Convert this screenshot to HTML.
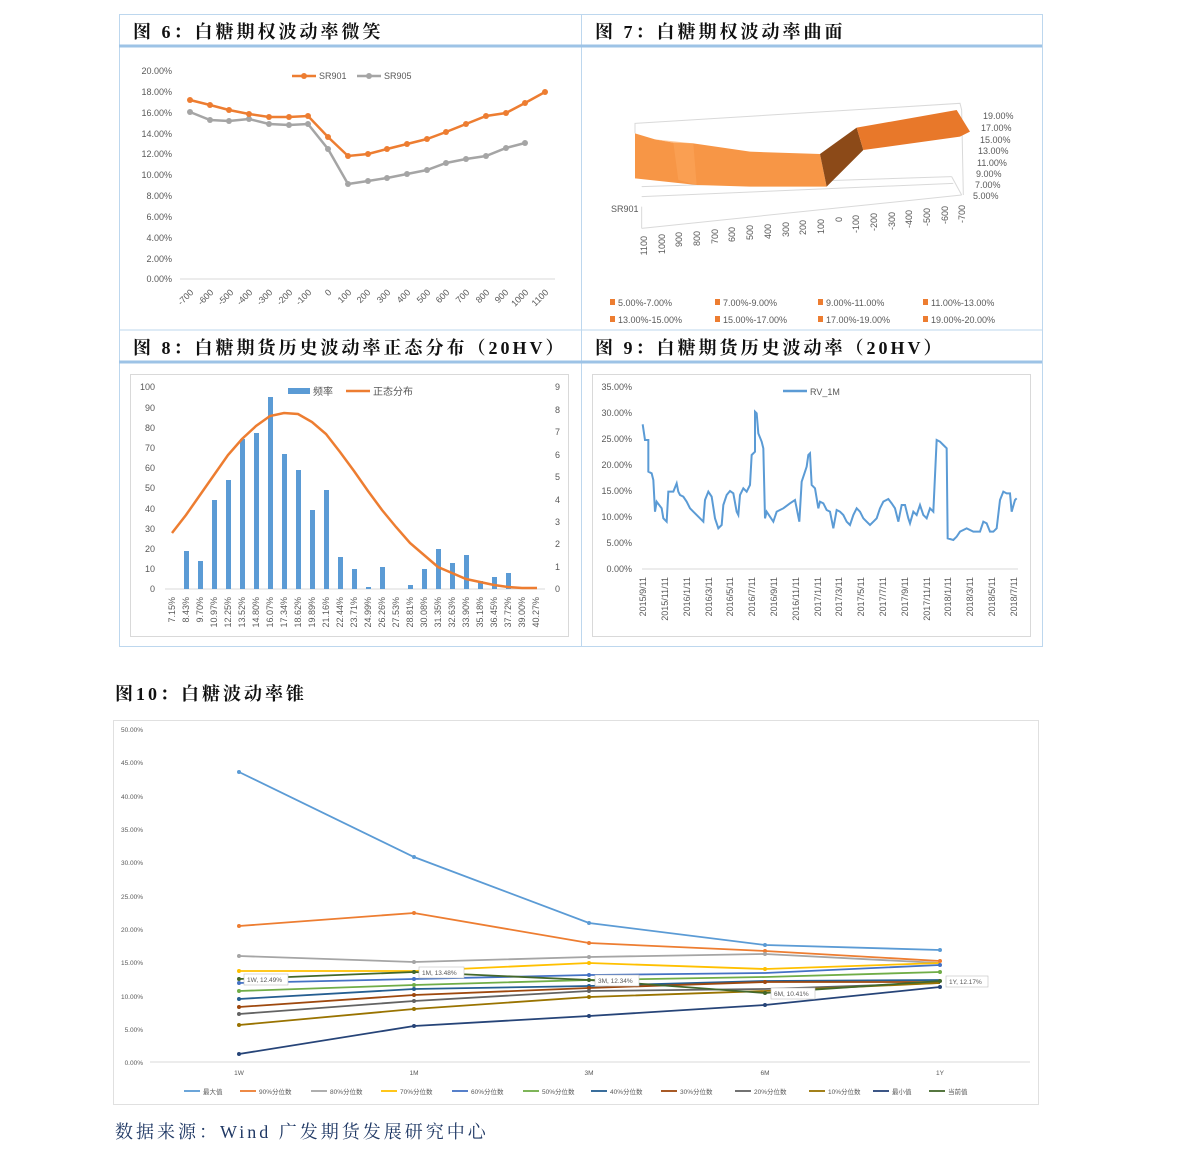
<!DOCTYPE html>
<html><head><meta charset="utf-8"><style>
body{margin:0;background:#fff;}
svg{display:block;}
.t{font-family:"Liberation Sans","Noto Sans CJK SC",sans-serif;fill:#595959;}
.h{font-family:"Liberation Serif","Noto Serif CJK SC",serif;font-weight:bold;fill:#111;font-size:18px;letter-spacing:3px;}
</style></head><body>
<svg width="1191" height="1163" viewBox="0 0 1191 1163" xmlns="http://www.w3.org/2000/svg">
<rect x="119.5" y="14.5" width="923" height="632" fill="none" stroke="#bdd7ee"/>
<line x1="581.5" y1="14" x2="581.5" y2="646" stroke="#bdd7ee"/>
<line x1="119" y1="46" x2="1042" y2="46" stroke="#9dc3e6" stroke-width="3"/>
<line x1="119" y1="330" x2="1042" y2="330" stroke="#bdd7ee"/>
<line x1="119" y1="362" x2="1042" y2="362" stroke="#9dc3e6" stroke-width="3"/>
<text class="h" x="133" y="38">图 6：白糖期权波动率微笑</text>
<text class="h" x="595" y="38">图 7：白糖期权波动率曲面</text>
<text class="h" x="133" y="354">图 8：白糖期货历史波动率正态分布（20HV）</text>
<text class="h" x="595" y="354">图 9：白糖期货历史波动率（20HV）</text>

<!-- Chart 6 -->
<g class="t" font-size="9" text-anchor="end">
<text x="172" y="74">20.00%</text><text x="172" y="95">18.00%</text><text x="172" y="116">16.00%</text><text x="172" y="137">14.00%</text><text x="172" y="157">12.00%</text><text x="172" y="178">10.00%</text><text x="172" y="199">8.00%</text><text x="172" y="220">6.00%</text><text x="172" y="241">4.00%</text><text x="172" y="262">2.00%</text><text x="172" y="282">0.00%</text>
</g>
<line x1="180" y1="279" x2="555" y2="279" stroke="#d9d9d9"/>
<g class="t" font-size="9" text-anchor="end">
<text transform="translate(194,293) rotate(-45)">-700</text><text transform="translate(214,293) rotate(-45)">-600</text><text transform="translate(234,293) rotate(-45)">-500</text><text transform="translate(253,293) rotate(-45)">-400</text><text transform="translate(273,293) rotate(-45)">-300</text><text transform="translate(293,293) rotate(-45)">-200</text><text transform="translate(312,293) rotate(-45)">-100</text><text transform="translate(332,293) rotate(-45)">0</text><text transform="translate(352,293) rotate(-45)">100</text><text transform="translate(371,293) rotate(-45)">200</text><text transform="translate(391,293) rotate(-45)">300</text><text transform="translate(411,293) rotate(-45)">400</text><text transform="translate(431,293) rotate(-45)">500</text><text transform="translate(450,293) rotate(-45)">600</text><text transform="translate(470,293) rotate(-45)">700</text><text transform="translate(490,293) rotate(-45)">800</text><text transform="translate(509,293) rotate(-45)">900</text><text transform="translate(529,293) rotate(-45)">1000</text><text transform="translate(549,293) rotate(-45)">1100</text>
</g>
<g fill="none" stroke-width="2.5">
<polyline stroke="#a5a5a5" points="190,112 210,120 229,121 249,119 269,124 289,125 308,124 328,149 348,184 368,181 387,178 407,174 427,170 446,163 466,159 486,156 506,148 525,143"/>
<polyline stroke="#ed7d31" points="190,100 210,105 229,110 249,114 269,117 289,117 308,116 328,137 348,156 368,154 387,149 407,144 427,139 446,132 466,124 486,116 506,113 525,103 545,92"/>
</g>
<g fill="#a5a5a5"><circle cx="190" cy="112" r="3"/><circle cx="210" cy="120" r="3"/><circle cx="229" cy="121" r="3"/><circle cx="249" cy="119" r="3"/><circle cx="269" cy="124" r="3"/><circle cx="289" cy="125" r="3"/><circle cx="308" cy="124" r="3"/><circle cx="328" cy="149" r="3"/><circle cx="348" cy="184" r="3"/><circle cx="368" cy="181" r="3"/><circle cx="387" cy="178" r="3"/><circle cx="407" cy="174" r="3"/><circle cx="427" cy="170" r="3"/><circle cx="446" cy="163" r="3"/><circle cx="466" cy="159" r="3"/><circle cx="486" cy="156" r="3"/><circle cx="506" cy="148" r="3"/><circle cx="525" cy="143" r="3"/></g>
<g fill="#ed7d31"><circle cx="190" cy="100" r="3"/><circle cx="210" cy="105" r="3"/><circle cx="229" cy="110" r="3"/><circle cx="249" cy="114" r="3"/><circle cx="269" cy="117" r="3"/><circle cx="289" cy="117" r="3"/><circle cx="308" cy="116" r="3"/><circle cx="328" cy="137" r="3"/><circle cx="348" cy="156" r="3"/><circle cx="368" cy="154" r="3"/><circle cx="387" cy="149" r="3"/><circle cx="407" cy="144" r="3"/><circle cx="427" cy="139" r="3"/><circle cx="446" cy="132" r="3"/><circle cx="466" cy="124" r="3"/><circle cx="486" cy="116" r="3"/><circle cx="506" cy="113" r="3"/><circle cx="525" cy="103" r="3"/><circle cx="545" cy="92" r="3"/></g>
<line x1="292" y1="76" x2="316" y2="76" stroke="#ed7d31" stroke-width="2.5"/><circle cx="304" cy="76" r="3" fill="#ed7d31"/>
<text class="t" x="319" y="79" font-size="9">SR901</text>
<line x1="357" y1="76" x2="381" y2="76" stroke="#a5a5a5" stroke-width="2.5"/><circle cx="369" cy="76" r="3" fill="#a5a5a5"/>
<text class="t" x="384" y="79" font-size="9">SR905</text>

<!-- Chart 7 -->
<g transform="translate(590,80) scale(0.33333)" fill="none" stroke="#d9d9d9" stroke-width="3">
<polyline points="135,160 135,130 1110,70 1115,90 1120,345"/>
<line x1="155" y1="320" x2="1085" y2="290"/>
<line x1="155" y1="350" x2="1090" y2="310"/>
<line x1="155" y1="445" x2="1115" y2="345"/>
<line x1="155" y1="380" x2="155" y2="445"/>
<line x1="1115" y1="345" x2="1085" y2="290"/>
<polygon fill="#f79646" stroke="none" points="135,160 195,178 250,188 310,190 480,215 690,222 710,320 480,320 320,315 135,295"/>
<polygon fill="#fba55a" stroke="none" opacity="0.6" points="195,178 250,188 265,300 320,315 310,190"/>
<polygon fill="#8c4a18" stroke="none" points="690,222 800,143 820,210 710,320"/>
<polygon fill="#e8782a" stroke="none" points="800,143 1100,90 1140,155 1110,170 820,210"/>
</g>
<g class="t" font-size="9">
<text x="983" y="119">19.00%</text><text x="981" y="131">17.00%</text><text x="980" y="143">15.00%</text><text x="978" y="154">13.00%</text><text x="977" y="166">11.00%</text><text x="976" y="177">9.00%</text><text x="975" y="188">7.00%</text><text x="973" y="199">5.00%</text>
<text x="611" y="212">SR901</text>
</g>
<g class="t" font-size="9" text-anchor="end">
<text transform="translate(647,236) rotate(-90)">1100</text><text transform="translate(665,234) rotate(-90)">1000</text><text transform="translate(682,232) rotate(-90)">900</text><text transform="translate(700,231) rotate(-90)">800</text><text transform="translate(718,229) rotate(-90)">700</text><text transform="translate(735,227) rotate(-90)">600</text><text transform="translate(753,225) rotate(-90)">500</text><text transform="translate(771,224) rotate(-90)">400</text><text transform="translate(789,222) rotate(-90)">300</text><text transform="translate(806,220) rotate(-90)">200</text><text transform="translate(824,219) rotate(-90)">100</text><text transform="translate(842,217) rotate(-90)">0</text><text transform="translate(859,215) rotate(-90)">-100</text><text transform="translate(877,213) rotate(-90)">-200</text><text transform="translate(895,212) rotate(-90)">-300</text><text transform="translate(912,210) rotate(-90)">-400</text><text transform="translate(930,208) rotate(-90)">-500</text><text transform="translate(948,206) rotate(-90)">-600</text><text transform="translate(965,205) rotate(-90)">-700</text>
</g>
<g fill="#ed7d31"><rect x="610" y="299" width="5" height="6"/><rect x="715" y="299" width="5" height="6"/><rect x="818" y="299" width="5" height="6"/><rect x="923" y="299" width="5" height="6"/><rect x="610" y="316" width="5" height="6"/><rect x="715" y="316" width="5" height="6"/><rect x="818" y="316" width="5" height="6"/><rect x="923" y="316" width="5" height="6"/></g>
<g class="t" font-size="9"><text x="618" y="306">5.00%-7.00%</text><text x="723" y="306">7.00%-9.00%</text><text x="826" y="306">9.00%-11.00%</text><text x="931" y="306">11.00%-13.00%</text><text x="618" y="323">13.00%-15.00%</text><text x="723" y="323">15.00%-17.00%</text><text x="826" y="323">17.00%-19.00%</text><text x="931" y="323">19.00%-20.00%</text></g>

<!-- Chart 8 -->
<rect x="130.5" y="374.5" width="438" height="262" fill="none" stroke="#d9d9d9"/>
<g class="t" font-size="9" text-anchor="end">
<text x="155" y="390">100</text><text x="155" y="411">90</text><text x="155" y="431">80</text><text x="155" y="451">70</text><text x="155" y="471">60</text><text x="155" y="491">50</text><text x="155" y="512">40</text><text x="155" y="532">30</text><text x="155" y="552">20</text><text x="155" y="572">10</text><text x="155" y="592">0</text>
</g>
<g class="t" font-size="9"><text x="555" y="390">9</text><text x="555" y="413">8</text><text x="555" y="435">7</text><text x="555" y="458">6</text><text x="555" y="480">5</text><text x="555" y="503">4</text><text x="555" y="525">3</text><text x="555" y="547">2</text><text x="555" y="570">1</text><text x="555" y="592">0</text></g>
<line x1="165" y1="589" x2="545" y2="589" stroke="#d9d9d9"/>
<g fill="#5b9bd5">
<rect x="184" y="551" width="5" height="38"/><rect x="198" y="561" width="5" height="28"/><rect x="212" y="500" width="5" height="89"/><rect x="226" y="480" width="5" height="109"/><rect x="240" y="439" width="5" height="150"/><rect x="254" y="433" width="5" height="156"/><rect x="268" y="397" width="5" height="192"/><rect x="282" y="454" width="5" height="135"/><rect x="296" y="470" width="5" height="119"/><rect x="310" y="510" width="5" height="79"/><rect x="324" y="490" width="5" height="99"/><rect x="338" y="557" width="5" height="32"/><rect x="352" y="569" width="5" height="20"/><rect x="366" y="587" width="5" height="2"/><rect x="380" y="567" width="5" height="22"/><rect x="408" y="585" width="5" height="4"/><rect x="422" y="569" width="5" height="20"/><rect x="436" y="549" width="5" height="40"/><rect x="450" y="563" width="5" height="26"/><rect x="464" y="555" width="5" height="34"/><rect x="478" y="581" width="5" height="8"/><rect x="492" y="577" width="5" height="12"/><rect x="506" y="573" width="5" height="16"/>
</g>
<polyline fill="none" stroke="#ed7d31" stroke-width="2.5" points="172,533 186,515 200,495 214,475 228,455 242,439 256,426 270,416 284,413 298,414 312,422 326,434 340,452 354,471 368,491 382,510 396,527 410,543 424,555 438,567 452,573 466,579 480,582 494,585 508,587 522,588 537,588"/>
<g class="t" font-size="9" text-anchor="end">
<text transform="translate(175,597) rotate(-90)">7.15%</text><text transform="translate(189,597) rotate(-90)">8.43%</text><text transform="translate(203,597) rotate(-90)">9.70%</text><text transform="translate(217,597) rotate(-90)">10.97%</text><text transform="translate(231,597) rotate(-90)">12.25%</text><text transform="translate(245,597) rotate(-90)">13.52%</text><text transform="translate(259,597) rotate(-90)">14.80%</text><text transform="translate(273,597) rotate(-90)">16.07%</text><text transform="translate(287,597) rotate(-90)">17.34%</text><text transform="translate(301,597) rotate(-90)">18.62%</text><text transform="translate(315,597) rotate(-90)">19.89%</text><text transform="translate(329,597) rotate(-90)">21.16%</text><text transform="translate(343,597) rotate(-90)">22.44%</text><text transform="translate(357,597) rotate(-90)">23.71%</text><text transform="translate(371,597) rotate(-90)">24.99%</text><text transform="translate(385,597) rotate(-90)">26.26%</text><text transform="translate(399,597) rotate(-90)">27.53%</text><text transform="translate(413,597) rotate(-90)">28.81%</text><text transform="translate(427,597) rotate(-90)">30.08%</text><text transform="translate(441,597) rotate(-90)">31.35%</text><text transform="translate(455,597) rotate(-90)">32.63%</text><text transform="translate(469,597) rotate(-90)">33.90%</text><text transform="translate(483,597) rotate(-90)">35.18%</text><text transform="translate(497,597) rotate(-90)">36.45%</text><text transform="translate(511,597) rotate(-90)">37.72%</text><text transform="translate(525,597) rotate(-90)">39.00%</text><text transform="translate(539,597) rotate(-90)">40.27%</text>
</g>
<rect x="288" y="388" width="22" height="6" fill="#5b9bd5"/><text class="t" x="313" y="395" font-size="10">频率</text>
<line x1="346" y1="391" x2="370" y2="391" stroke="#ed7d31" stroke-width="2.5"/><text class="t" x="373" y="395" font-size="10">正态分布</text>

<!-- Chart 9 -->
<rect x="592.5" y="374.5" width="438" height="262" fill="none" stroke="#d9d9d9"/>
<g class="t" font-size="9" text-anchor="end">
<text x="632" y="390">35.00%</text><text x="632" y="416">30.00%</text><text x="632" y="442">25.00%</text><text x="632" y="468">20.00%</text><text x="632" y="494">15.00%</text><text x="632" y="520">10.00%</text><text x="632" y="546">5.00%</text><text x="632" y="572">0.00%</text>
</g>
<line x1="642" y1="569" x2="1018" y2="569" stroke="#d9d9d9"/>
<g transform="translate(590,375) scale(0.33333)">
<polyline fill="none" stroke="#5b9bd5" stroke-width="2" vector-effect="non-scaling-stroke" points="158,148 165,195 175,195 175,290 185,295 190,315 195,410 200,380 215,400 220,430 230,440 235,350 250,350 260,325 265,350 270,360 280,365 290,380 300,400 310,410 330,430 340,440 345,375 355,350 365,365 375,430 385,460 395,450 400,390 410,360 420,348 430,355 440,410 445,420 450,360 460,340 470,350 480,330 485,240 495,230 495,110 500,115 505,175 515,200 520,220 525,430 530,410 550,440 560,410 580,400 600,385 615,375 628,440 635,320 645,290 650,275 655,240 660,235 665,330 675,340 685,400 690,380 700,385 710,405 720,410 730,460 740,405 750,410 760,420 770,440 780,450 790,420 800,400 810,410 820,430 830,440 840,450 850,440 860,430 870,400 880,380 895,372 905,385 915,400 925,440 935,390 945,390 955,430 960,445 970,410 980,420 990,390 1000,420 1010,430 1020,400 1030,410 1040,195 1050,200 1060,210 1070,220 1073,490 1090,495 1100,485 1110,470 1130,460 1150,470 1170,470 1180,440 1190,445 1200,470 1210,470 1220,460 1230,375 1240,350 1250,355 1260,355 1265,410 1275,375 1280,370"/>
</g>
<g class="t" font-size="9" text-anchor="end">
<text transform="translate(646,577) rotate(-90)">2015/9/11</text><text transform="translate(668,577) rotate(-90)">2015/11/11</text><text transform="translate(690,577) rotate(-90)">2016/1/11</text><text transform="translate(712,577) rotate(-90)">2016/3/11</text><text transform="translate(733,577) rotate(-90)">2016/5/11</text><text transform="translate(755,577) rotate(-90)">2016/7/11</text><text transform="translate(777,577) rotate(-90)">2016/9/11</text><text transform="translate(799,577) rotate(-90)">2016/11/11</text><text transform="translate(821,577) rotate(-90)">2017/1/11</text><text transform="translate(842,577) rotate(-90)">2017/3/11</text><text transform="translate(864,577) rotate(-90)">2017/5/11</text><text transform="translate(886,577) rotate(-90)">2017/7/11</text><text transform="translate(908,577) rotate(-90)">2017/9/11</text><text transform="translate(930,577) rotate(-90)">2017/11/11</text><text transform="translate(951,577) rotate(-90)">2018/1/11</text><text transform="translate(973,577) rotate(-90)">2018/3/11</text><text transform="translate(995,577) rotate(-90)">2018/5/11</text><text transform="translate(1017,577) rotate(-90)">2018/7/11</text>
</g>
<line x1="783" y1="391" x2="807" y2="391" stroke="#5b9bd5" stroke-width="2.5"/><text class="t" x="810" y="395" font-size="9">RV_1M</text>

<!-- Chart 10 -->
<text class="h" x="115" y="700">图10：白糖波动率锥</text>
<rect x="113.5" y="720.5" width="925" height="384" fill="none" stroke="#e0e0e0"/>
<g class="t" font-size="6.5" text-anchor="end">
<text x="143" y="732">50.00%</text><text x="143" y="765">45.00%</text><text x="143" y="799">40.00%</text><text x="143" y="832">35.00%</text><text x="143" y="865">30.00%</text><text x="143" y="899">25.00%</text><text x="143" y="932">20.00%</text><text x="143" y="965">15.00%</text><text x="143" y="999">10.00%</text><text x="143" y="1032">5.00%</text><text x="143" y="1065">0.00%</text>
</g>
<line x1="150" y1="1062" x2="1030" y2="1062" stroke="#d9d9d9"/>
<g class="t" font-size="6.5" text-anchor="middle"><text x="239" y="1075">1W</text><text x="414" y="1075">1M</text><text x="589" y="1075">3M</text><text x="765" y="1075">6M</text><text x="940" y="1075">1Y</text></g>
<g fill="none" stroke-width="1.8">
<polyline stroke="#5b9bd5" points="239,772 414,857 589,923 765,945 940,950"/>
<polyline stroke="#ed7d31" points="239,926 414,913 589,943 765,951 940,961"/>
<polyline stroke="#a5a5a5" points="239,956 414,962 589,957 765,954 940,963"/>
<polyline stroke="#ffc000" points="239,971 414,971 589,963 765,969 940,963"/>
<polyline stroke="#4472c4" points="239,983 414,979 589,975 765,973 940,965"/>
<polyline stroke="#70ad47" points="239,991 414,985 589,980 765,977 940,972"/>
<polyline stroke="#255e91" points="239,999 414,989 589,986 765,981 940,980"/>
<polyline stroke="#9e480e" points="239,1007 414,995 589,988 765,982 940,982"/>
<polyline stroke="#636363" points="239,1014 414,1001 589,991 765,989 940,983"/>
<polyline stroke="#997300" points="239,1025 414,1009 589,997 765,991 940,983"/>
<polyline stroke="#264478" points="239,1054 414,1026 589,1016 765,1005 940,987"/>
<polyline stroke="#43682b" points="239,979 414,972 589,980 765,993 940,981"/>
</g>
<g>
<g fill="#5b9bd5"><circle cx="239" cy="772" r="2"/><circle cx="414" cy="857" r="2"/><circle cx="589" cy="923" r="2"/><circle cx="765" cy="945" r="2"/><circle cx="940" cy="950" r="2"/></g>
<g fill="#ed7d31"><circle cx="239" cy="926" r="2"/><circle cx="414" cy="913" r="2"/><circle cx="589" cy="943" r="2"/><circle cx="765" cy="951" r="2"/><circle cx="940" cy="961" r="2"/></g>
<g fill="#a5a5a5"><circle cx="239" cy="956" r="2"/><circle cx="414" cy="962" r="2"/><circle cx="589" cy="957" r="2"/><circle cx="765" cy="954" r="2"/></g>
<g fill="#ffc000"><circle cx="239" cy="971" r="2"/><circle cx="589" cy="963" r="2"/><circle cx="765" cy="969" r="2"/></g>
<g fill="#4472c4"><circle cx="239" cy="983" r="2"/><circle cx="414" cy="979" r="2"/><circle cx="589" cy="975" r="2"/><circle cx="940" cy="965" r="2"/></g>
<g fill="#70ad47"><circle cx="239" cy="991" r="2"/><circle cx="414" cy="985" r="2"/><circle cx="940" cy="972" r="2"/></g>
<g fill="#255e91"><circle cx="239" cy="999" r="2"/><circle cx="414" cy="989" r="2"/><circle cx="589" cy="986" r="2"/></g>
<g fill="#9e480e"><circle cx="239" cy="1007" r="2"/><circle cx="414" cy="995" r="2"/><circle cx="589" cy="988" r="2"/><circle cx="765" cy="982" r="2"/></g>
<g fill="#636363"><circle cx="239" cy="1014" r="2"/><circle cx="414" cy="1001" r="2"/><circle cx="589" cy="991" r="2"/></g>
<g fill="#997300"><circle cx="239" cy="1025" r="2"/><circle cx="414" cy="1009" r="2"/><circle cx="589" cy="997" r="2"/></g>
<g fill="#264478"><circle cx="239" cy="1054" r="2"/><circle cx="414" cy="1026" r="2"/><circle cx="589" cy="1016" r="2"/><circle cx="765" cy="1005" r="2"/><circle cx="940" cy="987" r="2"/></g>
<g fill="#43682b"><circle cx="239" cy="979" r="2"/><circle cx="414" cy="972" r="2"/><circle cx="589" cy="980" r="2"/><circle cx="765" cy="993" r="2"/><circle cx="940" cy="981" r="2"/></g>
</g>
<g font-size="6.5" class="t">
<rect x="244" y="974" width="44" height="11" fill="#fff" stroke="#bfbfbf" stroke-width="0.6"/><text x="247" y="982">1W, 12.49%</text>
<rect x="419" y="967" width="45" height="11" fill="#fff" stroke="#bfbfbf" stroke-width="0.6"/><text x="422" y="975">1M, 13.48%</text>
<rect x="595" y="975" width="44" height="11" fill="#fff" stroke="#bfbfbf" stroke-width="0.6"/><text x="598" y="983">3M, 12.34%</text>
<rect x="771" y="988" width="44" height="11" fill="#fff" stroke="#bfbfbf" stroke-width="0.6"/><text x="774" y="996">6M, 10.41%</text>
<rect x="946" y="976" width="42" height="11" fill="#fff" stroke="#bfbfbf" stroke-width="0.6"/><text x="949" y="984">1Y, 12.17%</text>
</g>
<g font-size="6.5" class="t" stroke-width="1.8">
<line x1="184" y1="1091" x2="200" y2="1091" stroke="#5b9bd5"/><text x="203" y="1094">最大值</text>
<line x1="240" y1="1091" x2="256" y2="1091" stroke="#ed7d31"/><text x="259" y="1094">90%分位数</text>
<line x1="311" y1="1091" x2="327" y2="1091" stroke="#a5a5a5"/><text x="330" y="1094">80%分位数</text>
<line x1="381" y1="1091" x2="397" y2="1091" stroke="#ffc000"/><text x="400" y="1094">70%分位数</text>
<line x1="452" y1="1091" x2="468" y2="1091" stroke="#4472c4"/><text x="471" y="1094">60%分位数</text>
<line x1="523" y1="1091" x2="539" y2="1091" stroke="#70ad47"/><text x="542" y="1094">50%分位数</text>
<line x1="591" y1="1091" x2="607" y2="1091" stroke="#255e91"/><text x="610" y="1094">40%分位数</text>
<line x1="661" y1="1091" x2="677" y2="1091" stroke="#9e480e"/><text x="680" y="1094">30%分位数</text>
<line x1="735" y1="1091" x2="751" y2="1091" stroke="#636363"/><text x="754" y="1094">20%分位数</text>
<line x1="809" y1="1091" x2="825" y2="1091" stroke="#997300"/><text x="828" y="1094">10%分位数</text>
<line x1="873" y1="1091" x2="889" y2="1091" stroke="#264478"/><text x="892" y="1094">最小值</text>
<line x1="929" y1="1091" x2="945" y2="1091" stroke="#43682b"/><text x="948" y="1094">当前值</text>
</g>
<text x="115" y="1138" font-size="18" fill="#1f3864" letter-spacing="3" font-family="'Liberation Serif','Noto Serif CJK SC',serif">数据来源：Wind 广发期货发展研究中心</text>
</svg>
</body></html>
